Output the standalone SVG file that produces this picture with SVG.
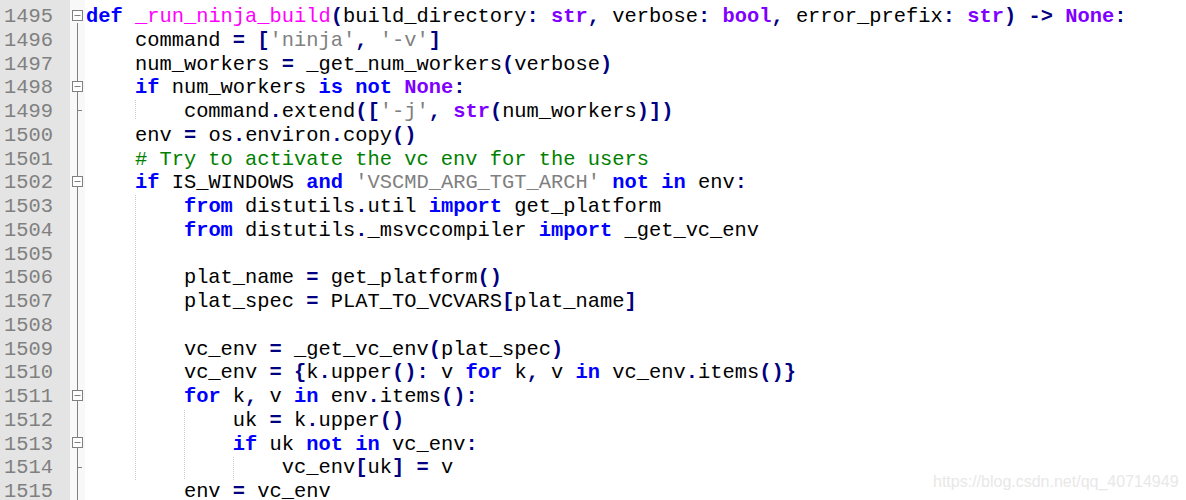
<svg xmlns="http://www.w3.org/2000/svg" width="1186" height="500" viewBox="0 0 1186 500">
<style>
text{font-family:"Liberation Mono","DejaVu Sans Mono",monospace;font-size:20.4px;fill:#000;white-space:pre}
.n{fill:#808080}
.k{fill:#0000FF;font-weight:bold}
.f{fill:#FF00FF}
.s{fill:#808080}
.c{fill:#008000}
.o{fill:#000080;font-weight:bold}
.p{fill:#8000FF;font-weight:bold}
.fold{fill:#fff;stroke:#808080;stroke-width:1}
</style>
<rect width="1186" height="500" fill="#fff"/>
<rect width="70" height="500" fill="#e4e4e4"/>
<rect x="70" width="15" height="500" fill="#f8f8f8"/>
<g id="gutter">
<line x1="77.5" y1="23" x2="77.5" y2="500" stroke="#808080"/>
<rect class="fold" x="72.5" y="10.5" width="10" height="10"/><line x1="74.5" y1="15.5" x2="80.5" y2="15.5" stroke="#808080"/>
<rect class="fold" x="72.5" y="81.5" width="10" height="10"/><line x1="74.5" y1="86.5" x2="80.5" y2="86.5" stroke="#808080"/>
<line x1="77.5" y1="110.5" x2="82" y2="110.5" stroke="#808080"/>
<rect class="fold" x="72.5" y="176.5" width="10" height="10"/><line x1="74.5" y1="181.5" x2="80.5" y2="181.5" stroke="#808080"/>
<rect class="fold" x="72.5" y="390.5" width="10" height="10"/><line x1="74.5" y1="395.5" x2="80.5" y2="395.5" stroke="#808080"/>
<rect class="fold" x="72.5" y="437.5" width="10" height="10"/><line x1="74.5" y1="442.5" x2="80.5" y2="442.5" stroke="#808080"/>
<line x1="77.5" y1="467.5" x2="82" y2="467.5" stroke="#808080"/>
</g>
<g id="guides" stroke="#c8c8c8" stroke-dasharray="1,1">
<line x1="135.5" y1="100" x2="135.5" y2="120"/>
<line x1="135.5" y1="195" x2="135.5" y2="480"/>
<line x1="184.5" y1="410" x2="184.5" y2="480"/>
<line x1="233.5" y1="457" x2="233.5" y2="480"/>
</g>
<g id="numbers">
<text class="n" x="4" y="22">1495</text>
<text class="n" x="4" y="45.75">1496</text>
<text class="n" x="4" y="69.5">1497</text>
<text class="n" x="4" y="93.25">1498</text>
<text class="n" x="4" y="117">1499</text>
<text class="n" x="4" y="140.75">1500</text>
<text class="n" x="4" y="164.5">1501</text>
<text class="n" x="4" y="188.25">1502</text>
<text class="n" x="4" y="212">1503</text>
<text class="n" x="4" y="235.75">1504</text>
<text class="n" x="4" y="259.5">1505</text>
<text class="n" x="4" y="283.25">1506</text>
<text class="n" x="4" y="307">1507</text>
<text class="n" x="4" y="330.75">1508</text>
<text class="n" x="4" y="354.5">1509</text>
<text class="n" x="4" y="378.25">1510</text>
<text class="n" x="4" y="402">1511</text>
<text class="n" x="4" y="425.75">1512</text>
<text class="n" x="4" y="449.5">1513</text>
<text class="n" x="4" y="473.25">1514</text>
<text class="n" x="4" y="497">1515</text>
</g>
<g id="code">
<text x="86" y="22"><tspan class="k">def</tspan> <tspan class="f">_run_ninja_build</tspan><tspan class="o">(</tspan>build_directory<tspan class="o">:</tspan> <tspan class="p">str</tspan><tspan class="o">,</tspan> verbose<tspan class="o">:</tspan> <tspan class="p">bool</tspan><tspan class="o">,</tspan> error_prefix<tspan class="o">:</tspan> <tspan class="p">str</tspan><tspan class="o">)</tspan> <tspan class="o">-&gt;</tspan> <tspan class="p">None</tspan><tspan class="o">:</tspan></text>
<text x="86" y="45.75">    command <tspan class="o">=</tspan> <tspan class="o">[</tspan><tspan class="s">'ninja'</tspan><tspan class="o">,</tspan> <tspan class="s">'-v'</tspan><tspan class="o">]</tspan></text>
<text x="86" y="69.5">    num_workers <tspan class="o">=</tspan> _get_num_workers<tspan class="o">(</tspan>verbose<tspan class="o">)</tspan></text>
<text x="86" y="93.25">    <tspan class="k">if</tspan> num_workers <tspan class="k">is</tspan> <tspan class="k">not</tspan> <tspan class="p">None</tspan><tspan class="o">:</tspan></text>
<text x="86" y="117">        command<tspan class="o">.</tspan>extend<tspan class="o">([</tspan><tspan class="s">'-j'</tspan><tspan class="o">,</tspan> <tspan class="p">str</tspan><tspan class="o">(</tspan>num_workers<tspan class="o">)])</tspan></text>
<text x="86" y="140.75">    env <tspan class="o">=</tspan> os<tspan class="o">.</tspan>environ<tspan class="o">.</tspan>copy<tspan class="o">()</tspan></text>
<text x="86" y="164.5">    <tspan class="c"># Try to activate the vc env for the users</tspan></text>
<text x="86" y="188.25">    <tspan class="k">if</tspan> IS_WINDOWS <tspan class="k">and</tspan> <tspan class="s">'VSCMD_ARG_TGT_ARCH'</tspan> <tspan class="k">not</tspan> <tspan class="k">in</tspan> env<tspan class="o">:</tspan></text>
<text x="86" y="212">        <tspan class="k">from</tspan> distutils<tspan class="o">.</tspan>util <tspan class="k">import</tspan> get_platform</text>
<text x="86" y="235.75">        <tspan class="k">from</tspan> distutils<tspan class="o">.</tspan>_msvccompiler <tspan class="k">import</tspan> _get_vc_env</text>
<text x="86" y="283.25">        plat_name <tspan class="o">=</tspan> get_platform<tspan class="o">()</tspan></text>
<text x="86" y="307">        plat_spec <tspan class="o">=</tspan> PLAT_TO_VCVARS<tspan class="o">[</tspan>plat_name<tspan class="o">]</tspan></text>
<text x="86" y="354.5">        vc_env <tspan class="o">=</tspan> _get_vc_env<tspan class="o">(</tspan>plat_spec<tspan class="o">)</tspan></text>
<text x="86" y="378.25">        vc_env <tspan class="o">=</tspan> <tspan class="o">{</tspan>k<tspan class="o">.</tspan>upper<tspan class="o">():</tspan> v <tspan class="k">for</tspan> k<tspan class="o">,</tspan> v <tspan class="k">in</tspan> vc_env<tspan class="o">.</tspan>items<tspan class="o">()}</tspan></text>
<text x="86" y="402">        <tspan class="k">for</tspan> k<tspan class="o">,</tspan> v <tspan class="k">in</tspan> env<tspan class="o">.</tspan>items<tspan class="o">():</tspan></text>
<text x="86" y="425.75">            uk <tspan class="o">=</tspan> k<tspan class="o">.</tspan>upper<tspan class="o">()</tspan></text>
<text x="86" y="449.5">            <tspan class="k">if</tspan> uk <tspan class="k">not</tspan> <tspan class="k">in</tspan> vc_env<tspan class="o">:</tspan></text>
<text x="86" y="473.25">                vc_env<tspan class="o">[</tspan>uk<tspan class="o">]</tspan> <tspan class="o">=</tspan> v</text>
<text x="86" y="497">        env <tspan class="o">=</tspan> vc_env</text>
</g>
<text x="933" y="487" style="font-family:'Liberation Sans',Arial,sans-serif;font-size:16px;fill:#e8e8e8">https://blog.csdn.net/qq_40714949</text>
</svg>
